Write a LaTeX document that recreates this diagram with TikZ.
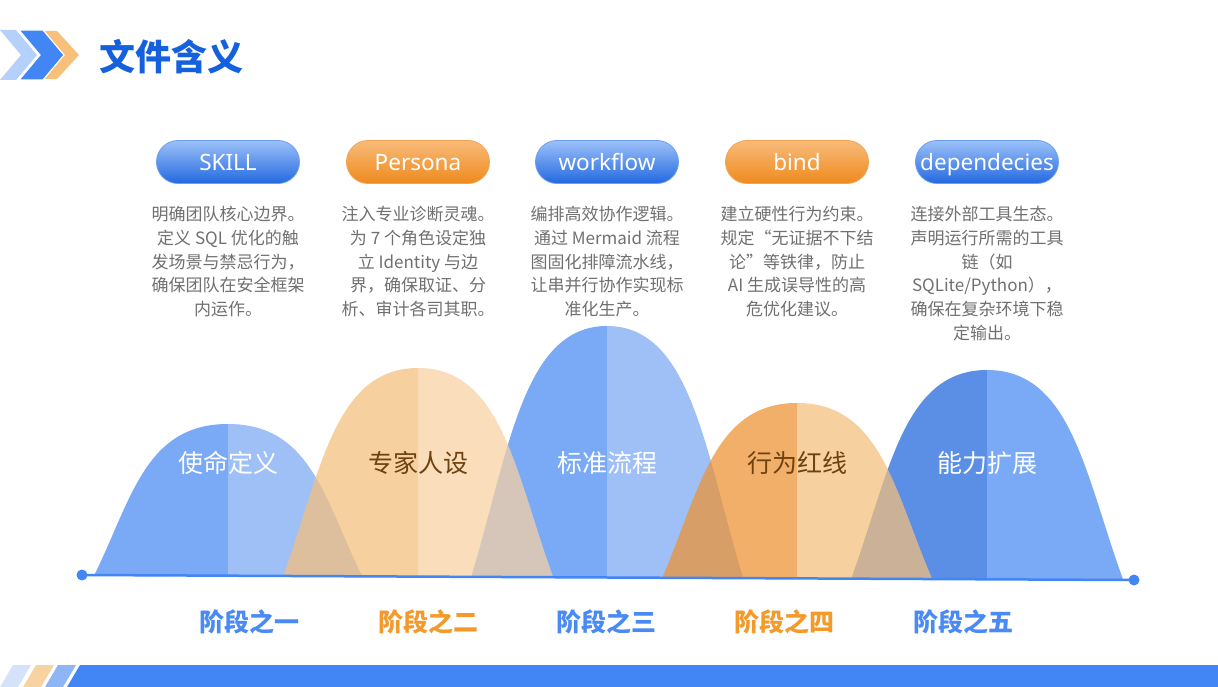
\documentclass[tikz,border=0pt]{standalone}
\usepackage{fontspec}
\setmainfont{Noto Sans CJK SC}
\newfontfamily\pillfont{Noto Sans}
\definecolor{mainblue}{HTML}{4285F4}
\definecolor{titleblue}{HTML}{1560DD}
\definecolor{lightchev}{HTML}{B5D0FA}
\definecolor{orangechev}{HTML}{F8C07A}
\definecolor{stripeA}{HTML}{D5E3FA}
\definecolor{stripeB}{HTML}{F8D3A2}
\definecolor{stripeC}{HTML}{8EB5F5}
\definecolor{pillbluetop}{HTML}{9CC1F9}
\definecolor{pillbluebot}{HTML}{2368E0}
\definecolor{pillblueline}{HTML}{6A9EF2}
\definecolor{pillorangetop}{HTML}{F8BB7A}
\definecolor{pillorangebot}{HTML}{EF8A1D}
\definecolor{pillorangeline}{HTML}{F4A252}
\definecolor{bodygray}{HTML}{707070}
\definecolor{brownlab}{HTML}{6E4210}
\definecolor{stageorange}{HTML}{F39A2B}
\definecolor{stageblue}{HTML}{4A8AF4}
\definecolor{bluedark}{HTML}{7AAAF5}
\definecolor{bluelight}{HTML}{9FC0F6}
\definecolor{bluedeep}{HTML}{5B8FE5}
\definecolor{orpale}{HTML}{F5BF7B}
\definecolor{orpaler}{HTML}{F9D1A2}
\definecolor{orstrong}{HTML}{EE9130}
\tikzset{
  pillbase/.style={rounded corners=21.5pt, minimum width=143pt, minimum height=43pt,
    inner sep=0pt, text=white, line width=0.8pt, text height=21pt, text depth=3pt,
    font=\pillfont\fontsize{22.5}{22.5}\selectfont},
  pillblue/.style={pillbase, top color=pillbluetop, bottom color=pillbluebot, draw=pillblueline},
  pillorange/.style={pillbase, top color=pillorangetop, bottom color=pillorangebot, draw=pillorangeline},
  bodytext/.style={anchor=north, align=center, inner sep=0pt, text=bodygray,
    font=\fontsize{17}{23.8}\selectfont},
  mlab/.style={inner sep=0pt, font=\fontsize{25}{25}\selectfont},
  stagelab/.style={inner sep=0pt, font=\bfseries\fontsize{25}{25}\selectfont},
  enddot/.style={circle, fill=mainblue, minimum size=11pt, inner sep=0pt},
  bluefill/.style={fill=#1},
  orfill/.style={fill=#1, fill opacity=0.72}
}
\newcommand\mymount[7]{% style, xc, top, halfwidth, base, leftcol, rightcol
  \fill[#1=#6] ({#2-#4},#5) .. controls ({#2-0.72*#4},{(#5+#3)/2}) and ({#2-0.62*#4},#3) .. (#2,#3) -- (#2,#5) -- cycle;
  \fill[#1=#7] (#2,#3) .. controls ({#2+0.62*#4},#3) and ({#2+0.72*#4},{(#5+#3)/2}) .. ({#2+#4},#5) -- (#2,#5) -- cycle;
}
\begin{document}
\begin{tikzpicture}[x=1pt,y=-1pt]
\useasboundingbox (0,0) rectangle (1218,687);
\fill[white] (0,0) rectangle (1218,687);

% header chevrons
\fill[lightchev] (0,30) -- (16,30) -- (37,55) -- (16,80) -- (0,80) -- (21,55) -- cycle;
\fill[orangechev] (34,31) -- (57,31) -- (79,55) -- (57,79) -- (34,79) -- (56,55) -- cycle;
\fill[mainblue, draw=white, line width=1.2pt] (19,30) -- (43,30) -- (64,55) -- (43,80) -- (19,80) -- (40,55) -- cycle;
\node[anchor=west, inner sep=0pt, text=titleblue, font=\bfseries\fontsize{36}{36}\selectfont] (title) at (99,57) {文件含义};

% pills
\node[pillblue]   (p1) at (228,162) {SKILL};
\node[pillorange] (p2) at (418,162) {Persona};
\node[pillblue]   (p3) at (607,162) {workflow};
\node[pillorange] (p4) at (797,162) {bind};
\node[pillblue]   (p5) at (987,162) {dependecies};

% descriptions
\node[bodytext] (d1) at (228,206) {明确团队核心边界。\\定义 SQL 优化的触\\发场景与禁忌行为，\\确保团队在安全框架\\内运作。};
\node[bodytext] (d2) at (418,206) {注入专业诊断灵魂。\\为 7 个角色设定独\\立 Identity 与边\\界，确保取证、分\\析、审计各司其职。};
\node[bodytext] (d3) at (607,206) {编排高效协作逻辑。\\通过 Mermaid 流程\\图固化排障流水线，\\让串并行协作实现标\\准化生产。};
\node[bodytext] (d4) at (797,206) {建立硬性行为约束。\\规定“无证据不下结\\论”等铁律，防止\\AI 生成误导性的高\\危优化建议。};
\node[bodytext] (d5) at (987,206) {连接外部工具生态。\\声明运行所需的工具\\链（如\\SQLite/Python），\\确保在复杂环境下稳\\定输出。};

% mountains: blue ones first, translucent orange ones over them
\mymount{bluefill}{228}{424}{134}{575.7}{bluedark}{bluelight}
\mymount{bluefill}{607}{326}{136}{577.5}{bluedark}{bluelight}
\mymount{bluefill}{987}{370}{136}{579.3}{bluedeep}{bluedark}
\mymount{orfill}{418}{368}{135}{576.6}{orpale}{orpaler}
\mymount{orfill}{797}{403}{135}{578.4}{orstrong}{orpale}

% baseline
\node[enddot] (lend) at (82,575) {};
\node[enddot] (rend) at (1134,580) {};
\draw[mainblue, line width=2.5pt] (lend.center) -- (rend.center);

% mountain labels
\node[mlab, text=white]    (m1) at (228,463) {使命定义};
\node[mlab, text=brownlab] (m2) at (418,463) {专家人设};
\node[mlab, text=white]    (m3) at (607,463) {标准流程};
\node[mlab, text=brownlab] (m4) at (797,463) {行为红线};
\node[mlab, text=white]    (m5) at (987,463) {能力扩展};

% stage labels
\node[stagelab, text=stageblue]   (s1) at (249,622) {阶段之一};
\node[stagelab, text=stageorange] (s2) at (428,622) {阶段之二};
\node[stagelab, text=stageblue]   (s3) at (606,622) {阶段之三};
\node[stagelab, text=stageorange] (s4) at (784,622) {阶段之四};
\node[stagelab, text=stageblue]   (s5) at (963,622) {阶段之五};

% bottom bar
\fill[stripeA] (13,665) -- (31,665) -- (18,687) -- (0,687) -- cycle;
\fill[stripeB] (36,665) -- (54,665) -- (41,687) -- (23,687) -- cycle;
\fill[stripeC] (58,665) -- (76,665) -- (63,687) -- (45,687) -- cycle;
\fill[mainblue] (80,665) -- (1218,665) -- (1218,687) -- (67,687) -- cycle;
\end{tikzpicture}
\end{document}
